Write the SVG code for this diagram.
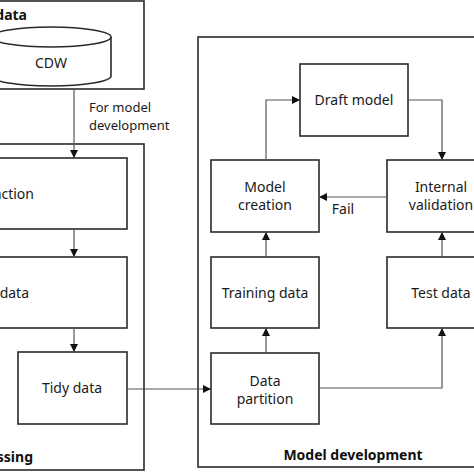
<svg xmlns="http://www.w3.org/2000/svg" width="474" height="474" viewBox="0 0 474 474">
<style>
.box{fill:#fff;stroke:#2a2a2a;stroke-width:1.6}
.frame{fill:none;stroke:#2a2a2a;stroke-width:1.6}
.t{font-family:"Noto Sans","Open Sans",sans-serif;font-size:14px;fill:#1a1a1a}
.s{font-family:"Noto Sans","Open Sans",sans-serif;font-size:13px;fill:#1a1a1a}
.b{font-family:"Noto Sans","Open Sans",sans-serif;font-size:14px;font-weight:bold;fill:#111}
.c{fill:none;stroke:#555;stroke-width:1.2}
</style>
<defs>
<marker id="ah" viewBox="0 0 10 10" refX="10" refY="5" markerWidth="8" markerHeight="8" markerUnits="userSpaceOnUse" orient="auto">
<path d="M0,0 L10,5 L0,10 z" fill="#111"/>
</marker>
</defs>
<rect width="474" height="474" fill="#fff"/>
<g id="source-data">
<rect class="frame" x="-20" y="1" width="164" height="88"/>
<text class="b" x="27" y="20" text-anchor="end">data</text>
</g>
<g id="cdw">
<path class="box" d="M-9,37 L-9,76 A60,10 0 0 0 111,76 L111,37"/>
<ellipse class="box" cx="51" cy="37" rx="60" ry="10"/>
<text class="t" x="51" y="68" text-anchor="middle" font-size="16">CDW</text>
</g>
<g id="preprocessing">
<rect class="frame" x="-20" y="144" width="164" height="326"/>
<text class="b" x="33" y="462" text-anchor="end">ssing</text>
</g>
<g id="extraction">
<rect class="box" x="-20" y="158" width="147" height="71"/>
<text class="t" x="34" y="199" text-anchor="end">action</text>
</g>
<g id="data2">
<rect class="box" x="-20" y="257" width="147" height="71"/>
<text class="t" x="29" y="298" text-anchor="end">data</text>
</g>
<g id="tidy">
<rect class="box" x="18" y="352" width="109" height="72"/>
<text class="t" x="72" y="393" text-anchor="middle">Tidy data</text>
</g>
<g id="model-development">
<rect class="frame" x="198" y="37" width="290" height="430"/>
<text class="b" x="353" y="460" text-anchor="middle">Model development</text>
</g>
<g id="draft">
<rect class="box" x="300" y="64" width="108" height="72"/>
<text class="t" x="354" y="105" text-anchor="middle">Draft model</text>
</g>
<g id="creation">
<rect class="box" x="211" y="160" width="108" height="72"/>
<text class="t" x="265" y="192" text-anchor="middle">Model</text>
<text class="t" x="265" y="210" text-anchor="middle">creation</text>
</g>
<g id="validation">
<rect class="box" x="387" y="160" width="108" height="72"/>
<text class="t" x="441" y="192" text-anchor="middle">Internal</text>
<text class="t" x="441" y="210" text-anchor="middle">validation</text>
</g>
<g id="training">
<rect class="box" x="211" y="257" width="108" height="71"/>
<text class="t" x="265" y="298" text-anchor="middle">Training data</text>
</g>
<g id="test">
<rect class="box" x="387" y="257" width="108" height="71"/>
<text class="t" x="441" y="298" text-anchor="middle">Test data</text>
</g>
<g id="partition">
<rect class="box" x="211" y="353" width="108" height="71"/>
<text class="t" x="265" y="386" text-anchor="middle">Data</text>
<text class="t" x="265" y="404" text-anchor="middle">partition</text>
</g>
<g id="connectors">
<path class="c" d="M74,89 V158" marker-end="url(#ah)"/>
<text class="s" x="89" y="112">For model</text>
<text class="s" x="89" y="130">development</text>
<path class="c" d="M74,229 V257" marker-end="url(#ah)"/>
<path class="c" d="M74,328 V352" marker-end="url(#ah)"/>
<path class="c" d="M127,389 H211" marker-end="url(#ah)"/>
<path class="c" d="M266,160 V100 H300" marker-end="url(#ah)"/>
<path class="c" d="M408,100 H442 V160" marker-end="url(#ah)"/>
<path class="c" d="M387,197 H319" marker-end="url(#ah)"/>
<text class="t" x="343" y="214" text-anchor="middle">Fail</text>
<path class="c" d="M266,257 V232" marker-end="url(#ah)"/>
<path class="c" d="M442,257 V232" marker-end="url(#ah)"/>
<path class="c" d="M266,353 V328" marker-end="url(#ah)"/>
<path class="c" d="M319,388 H442 V328" marker-end="url(#ah)"/>
</g>
</svg>
